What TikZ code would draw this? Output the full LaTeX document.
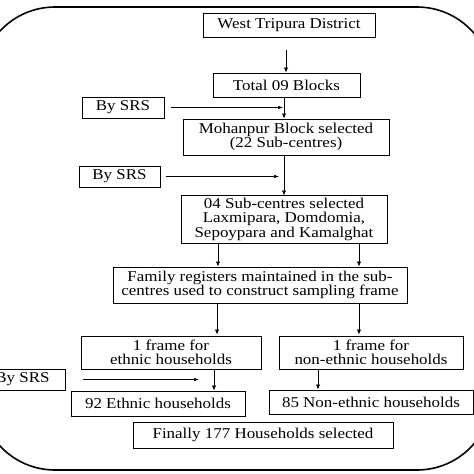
\documentclass[tikz,border=0pt]{standalone}
\usepackage{fontspec}
\setmainfont[FakeStretch=1.13]{Liberation Serif}
\usetikzlibrary{arrows.meta}

\begin{document}
\begin{tikzpicture}[x=1pt,y=-1pt,
            stage/.style={draw,line width=1pt,inner sep=0pt,align=center,font=\fontsize{15}{14.5}\selectfont},
            arr/.style={line width=.8pt,-{Latex[length=5pt,width=4.5pt]}},
            side/.style={line width=.5pt,-{Latex[length=5pt,width=3.5pt]}}]
            \useasboundingbox (0,0) rectangle (474,474);
            \draw[line width=1.6pt,rounded corners=75pt] (-20,7) rectangle (492,470);

            \node[stage,minimum width=172pt,minimum height=24pt] (dist) at (289,25) {West Tripura District};
            \node[stage,minimum width=147pt,minimum height=24pt] (blocks) at (286.5,85) {Total 09 Blocks};
            \node[stage,minimum width=82pt,minimum height=21pt,xshift=-3pt] (srsA) at (126,107.5) {By SRS};
            \node[stage,minimum width=81pt,minimum height=21pt] (srsB) at (119.5,176.5) {By SRS};
            \node[stage,minimum width=206pt,minimum height=36pt] (mohan) at (286,137) {Mohanpur Block selected\\(22 Sub-centres)};
            \node[stage,minimum width=206pt,minimum height=48pt] (subc) at (284,219) {04 Sub-centres selected\\Laxmipara, Domdomia,\\Sepoypara and Kamalghat};
            \node[stage,minimum width=294pt,minimum height=36pt] (family) at (260,285) {Family registers maintained in the sub-\\centres used to construct sampling frame};
            \node[stage,minimum width=180pt,minimum height=33pt] (ethA) at (171,352.5) {1 frame for\\ethnic households};
            \node[stage,minimum width=184pt,minimum height=33pt] (ethB) at (371,352.5) {1 frame for\\non-ethnic households};
            \node[stage,minimum width=85pt,minimum height=21pt] (srsC) at (22.5,379.5) {By SRS};
            \node[stage,minimum width=174pt,minimum height=25pt] (eth92) at (158,403.5) {92 Ethnic households};
            \node[stage,minimum width=204pt,minimum height=24pt] (non85) at (371,402) {85 Non-ethnic households};
            \node[stage,minimum width=260pt,minimum height=26pt] (final) at (263,435) {Finally 177 Households selected};

            \draw[arr] ([yshift=-12pt]dist.south -| 286,0) coordinate (d1) -- (d1 |- blocks.north);
            \draw[arr] (blocks.south -| 284,0) coordinate (b1) -- (b1 |- mohan.north);
            \draw[arr] (mohan.south -| 284,0) coordinate (m1) -- ([yshift=-1pt]m1 |- subc.north);
            \draw[arr] (subc.south -| 218,0) coordinate (s1) -- (s1 |- family.north);
            \draw[arr] (subc.south -| 359,0) coordinate (s2) -- (s2 |- family.north);
            \draw[arr] (family.south -| 217,0) coordinate (f1) -- ([yshift=1pt]f1 |- ethA.north);
            \draw[arr] (family.south -| 359,0) coordinate (f2) -- ([yshift=1pt]f2 |- ethB.north);
            \draw[arr] (ethA.south -| 214,0) coordinate (e1) -- (e1 |- eth92.north);
            \draw[arr] (ethB.south -| 318,0) coordinate (e2) -- (e2 |- non85.north);

            \draw[side] (171,107.5) -- ([xshift=-1pt]b1 |- srsA.east);
            \draw[side] ([xshift=5pt]srsB.east) -- ([xshift=-5pt]m1 |- srsB.east);
            \draw[side] ([xshift=17pt]srsC.east) -- ([xshift=-15pt]e1 |- srsC.east);
\end{tikzpicture}
\end{document}
